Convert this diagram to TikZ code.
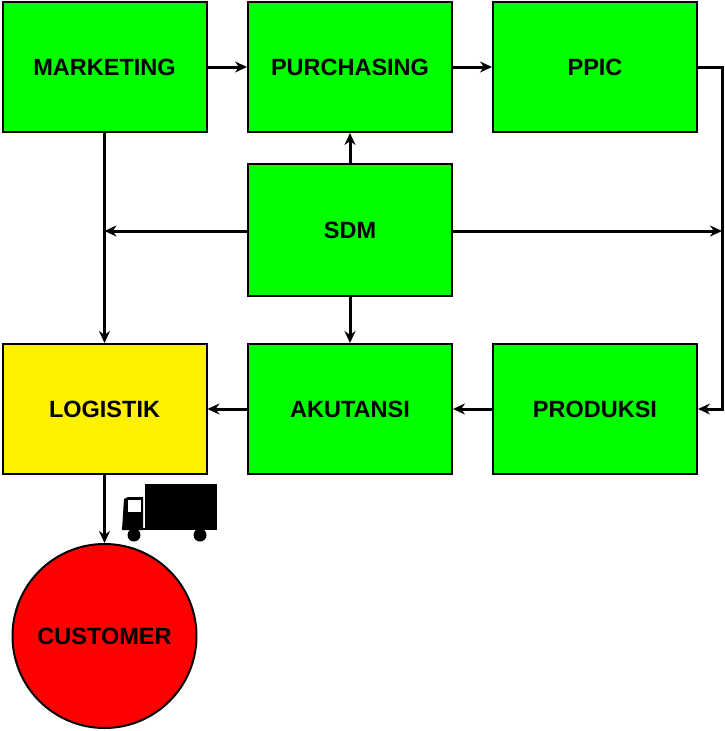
\documentclass[tikz,border=0pt]{standalone}
\usepackage{fontspec}
\setmainfont{Liberation Sans}
\usetikzlibrary{arrows.meta}
\begin{document}
\begin{tikzpicture}[x=1pt,y=-1pt,
 box/.style={draw=black,line width=2pt,minimum width=204pt,minimum height=130pt,font=\bfseries\fontsize{23.5}{26}\selectfont},
 ar/.style={line width=3pt,-{Stealth[length=12pt,width=11pt]}}]
\useasboundingbox (0,0) rectangle (724,731);
\definecolor{gr}{RGB}{0,255,0}
\tikzset{box/.append style={fill=gr}}
\node[box] (mk) at (104.5,67) {MARKETING};
\node[box] (pu) at (350,67) {PURCHASING};
\node[box] (pp) at (595,67) {PPIC};
\node[box,minimum height=132pt] (sdm) at (350,230) {SDM};
\node[box,fill=yellow] (lg) at (104.5,409) {LOGISTIK};
\node[box] (ak) at (350,409) {AKUTANSI};
\node[box] (pr) at (595,409) {PRODUKSI};
\node[circle,draw,line width=2pt,fill=red,minimum size=184pt,inner sep=0pt,font=\bfseries\fontsize{23.5}{26}\selectfont] (cu) at (104.5,636) {CUSTOMER};
\coordinate (l) at (104.5,231);
\coordinate (r) at (722,231);
\draw[ar] (mk) -- (pu);
\draw[ar] (pu) -- (pp);
\draw[ar] (pp.east) -- (722,67) -- (722,409) -- (pr.east);
\draw[ar] (sdm.west |- l) -- (l);
\draw[ar] (sdm.east |- r) -- (r);
\draw[ar] (sdm) -- (pu);
\draw[ar] (sdm) -- (ak);
\draw[ar] (mk) -- (lg);
\draw[ar] (pr) -- (ak);
\draw[ar] (ak) -- (lg);
\draw[ar] (lg) -- (cu);
% truck
\fill (145,484) rectangle (217,528);
\fill (122,530) -- (124,499) -- (128,497) -- (143,497) -- (143,530) -- cycle;
\fill (122,528) rectangle (217,530);
\fill[white] (128,500) rectangle (141,512);
\fill (134,535) circle (6.5);
\fill (200,535) circle (6.5);
\end{tikzpicture}
\end{document}
